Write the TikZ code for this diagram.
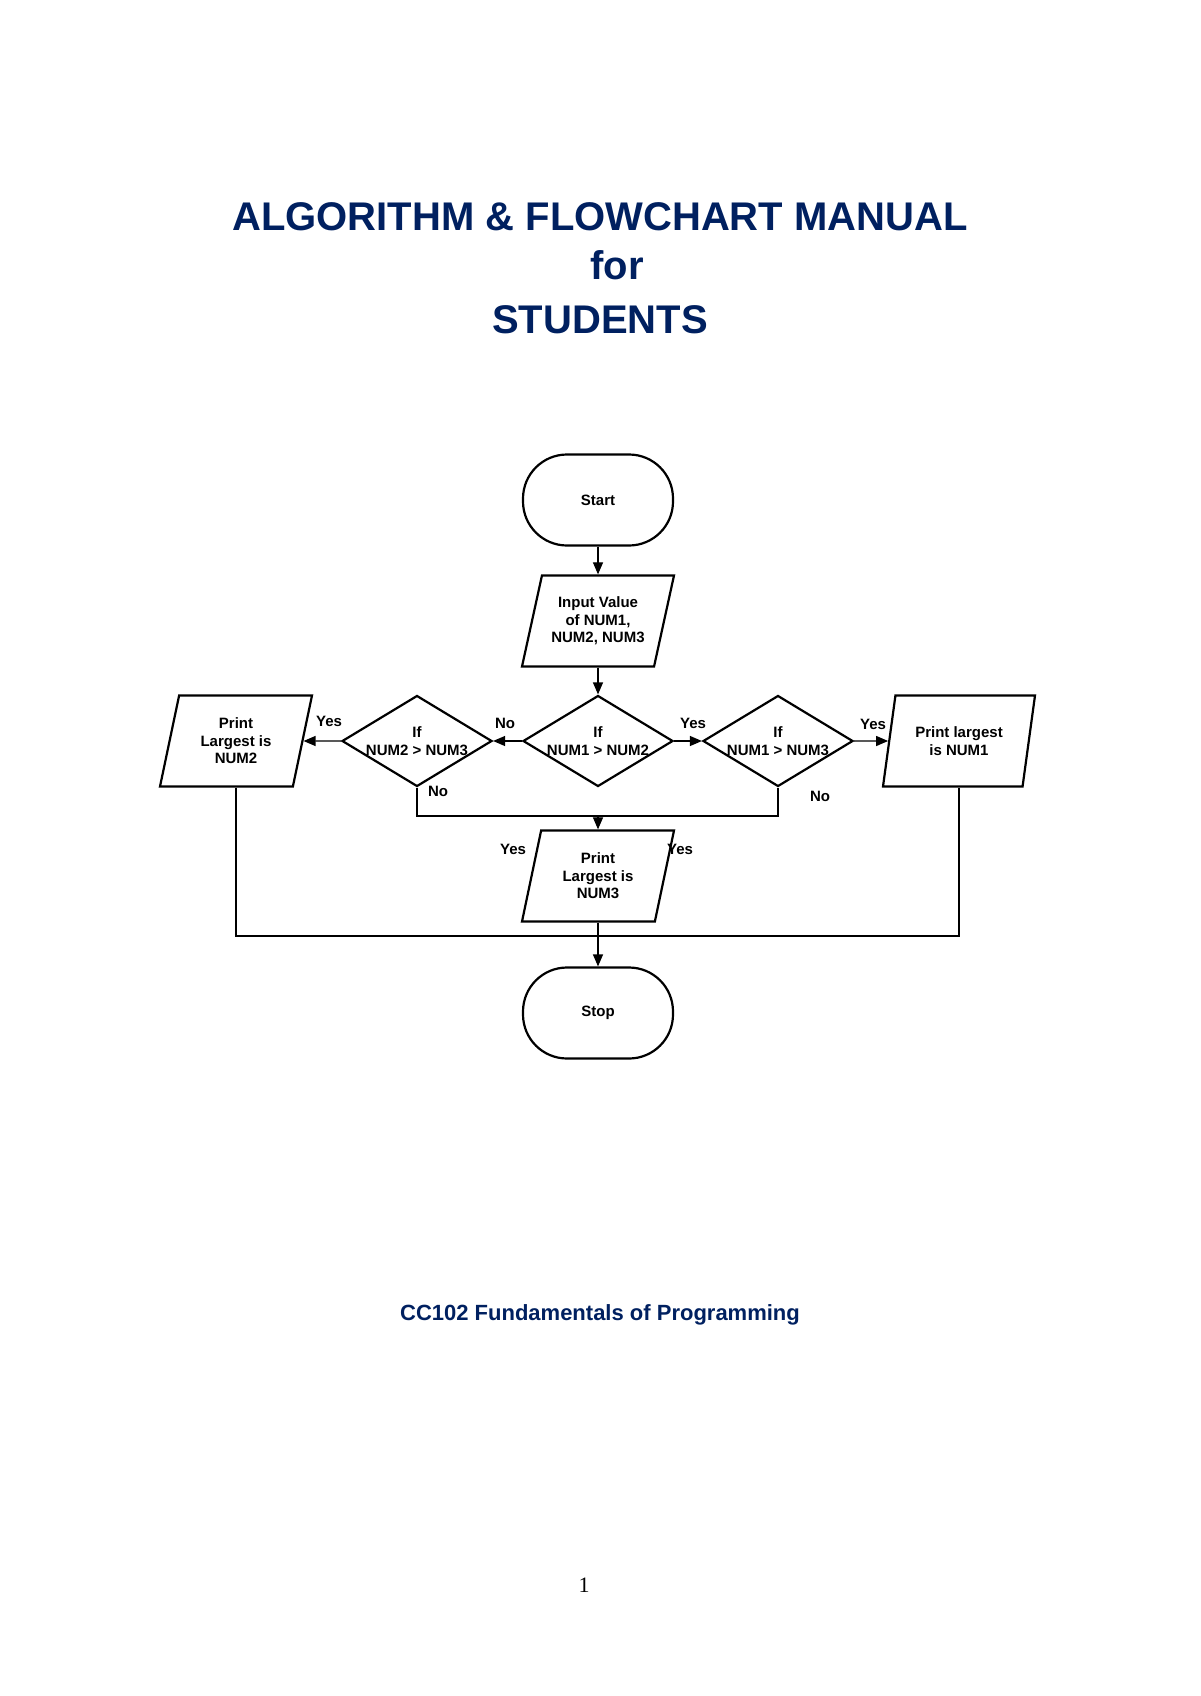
\documentclass[tikz,border=0pt]{standalone}
\usepackage{fontspec}
\setmainfont{Liberation Sans}
\newfontfamily\pagefont{Liberation Serif}
\usetikzlibrary{arrows.meta,positioning,shapes.geometric}
\definecolor{navy}{RGB}{0,32,96}
\newcommand{\fchart}{\fontsize{7.5}{8.7}\selectfont\bfseries}
\tikzset{
  term/.style={draw,line width=1.1pt,rounded corners=22pt,minimum width=75pt,
               minimum height=45.5pt,font=\fchart,inner sep=1pt},
  io/.style={draw,line width=1.1pt,trapezium,trapezium left angle=69,
             trapezium right angle=111,trapezium stretches body,
             minimum width=76pt,minimum height=45.5pt,align=center,
             font=\fchart,inner sep=1pt},
  dec/.style={draw,line width=1.1pt,diamond,minimum width=75pt,
              minimum height=45.5pt,inner sep=0pt},
  dectxt/.style={align=center,font=\fchart,inner sep=0pt},
  flow/.style={-{Triangle[length=6pt,width=5pt]},line width=0.6pt},
  link/.style={line width=0.6pt},
  lbl/.style={font=\fchart,inner sep=1pt},
  ttl/.style={font=\bfseries\fontsize{20}{24}\selectfont,text=navy,anchor=base,inner sep=0pt},
}

\begin{document}
\begin{tikzpicture}[x=0.5pt,y=-0.5pt]
  \useasboundingbox (0,0) rectangle (1200,1696);

  % --- titlu ----------------------------------------------------------------
  \node[ttl] (ttlmain) at (600,231) {ALGORITHM \& FLOWCHART MANUAL};
  \node[ttl] (ttlfor)  at (617,279) {for};
  \node[ttl] (ttlstu)  at (600,333) {STUDENTS};

  % --- simboluri ------------------------------------------------------------
  \node[term] (start) at (598,500) {Start};
  \node[io]   (input) at (598,621) {Input Value\\of NUM1,\\NUM2, NUM3};

  \node[dec] (d1) at (598,741) {};
  \node[dectxt] (d1txt) at (d1) {If\\NUM1 > NUM2};
  \node[dec] (d2) at (417,741) {};
  \node[dectxt] (d2txt) at (d2) {If\\NUM2 > NUM3};
  \node[dec] (d3) at (778,741) {};
  \node[dectxt] (d3txt) at (d3) {If\\NUM1 > NUM3};

  \node[io] (p2) at (236,741) {Print\\Largest is\\NUM2};
  \node[io] (p1) at (959,741) {Print largest\\is NUM1};
  \node[io] (p3) at (598,876) {Print\\Largest is\\NUM3};

  \node[term] (stop) at (598,1013) {Stop};

  % --- conexiuni --------------------------------------------------------------
  \draw[flow] (start) -- (input.center |- input.north);
  \draw[flow] (input.center |- input.south) -- (d1.north);
  \draw[flow] (d1.west) -- (d2.east);
  \draw[flow] (d1.east) -- (d3.west);
  \draw[flow] (d2.west) -- (p2.east);
  \draw[flow] (d3.east) -- (p1.west);

  \coordinate (join)  at (598,816);
  \draw[link] (d2.south) |- (join) -| (d3.south);
  \draw[flow] (join) -- (p3.center |- p3.north);

  \coordinate (merge) at (598,936);
  \draw[link] (p2.center |- p2.south) |- (merge) -| (p1.center |- p1.south);
  \draw[flow] (p3.center |- p3.south) -- (stop.north);

  % --- etichete ---------------------------------------------------------------
  \node[lbl] (yes2)  at (329,721) {Yes};
  \node[lbl] (no1)   at (505,723) {No};
  \node[lbl] (yes1)  at (693,723) {Yes};
  \node[lbl] (yes3)  at (873,724) {Yes};
  \node[lbl] (no2)   at (438,791) {No};
  \node[lbl] (no3)   at (820,796) {No};
  \node[lbl] (yes4)  at (513,849) {Yes};
  \node[lbl] (yes5)  at (680,849) {Yes};

  % --- subsol -----------------------------------------------------------------
  \node[font=\bfseries\fontsize{11}{13}\selectfont,text=navy,anchor=base] (foot)
        at (600,1320) {CC102 Fundamentals of Programming};
  \node[font=\pagefont\fontsize{11}{13}\selectfont,anchor=base] (pgnum)
        at (584,1592) {1};

\end{tikzpicture}
\end{document}
